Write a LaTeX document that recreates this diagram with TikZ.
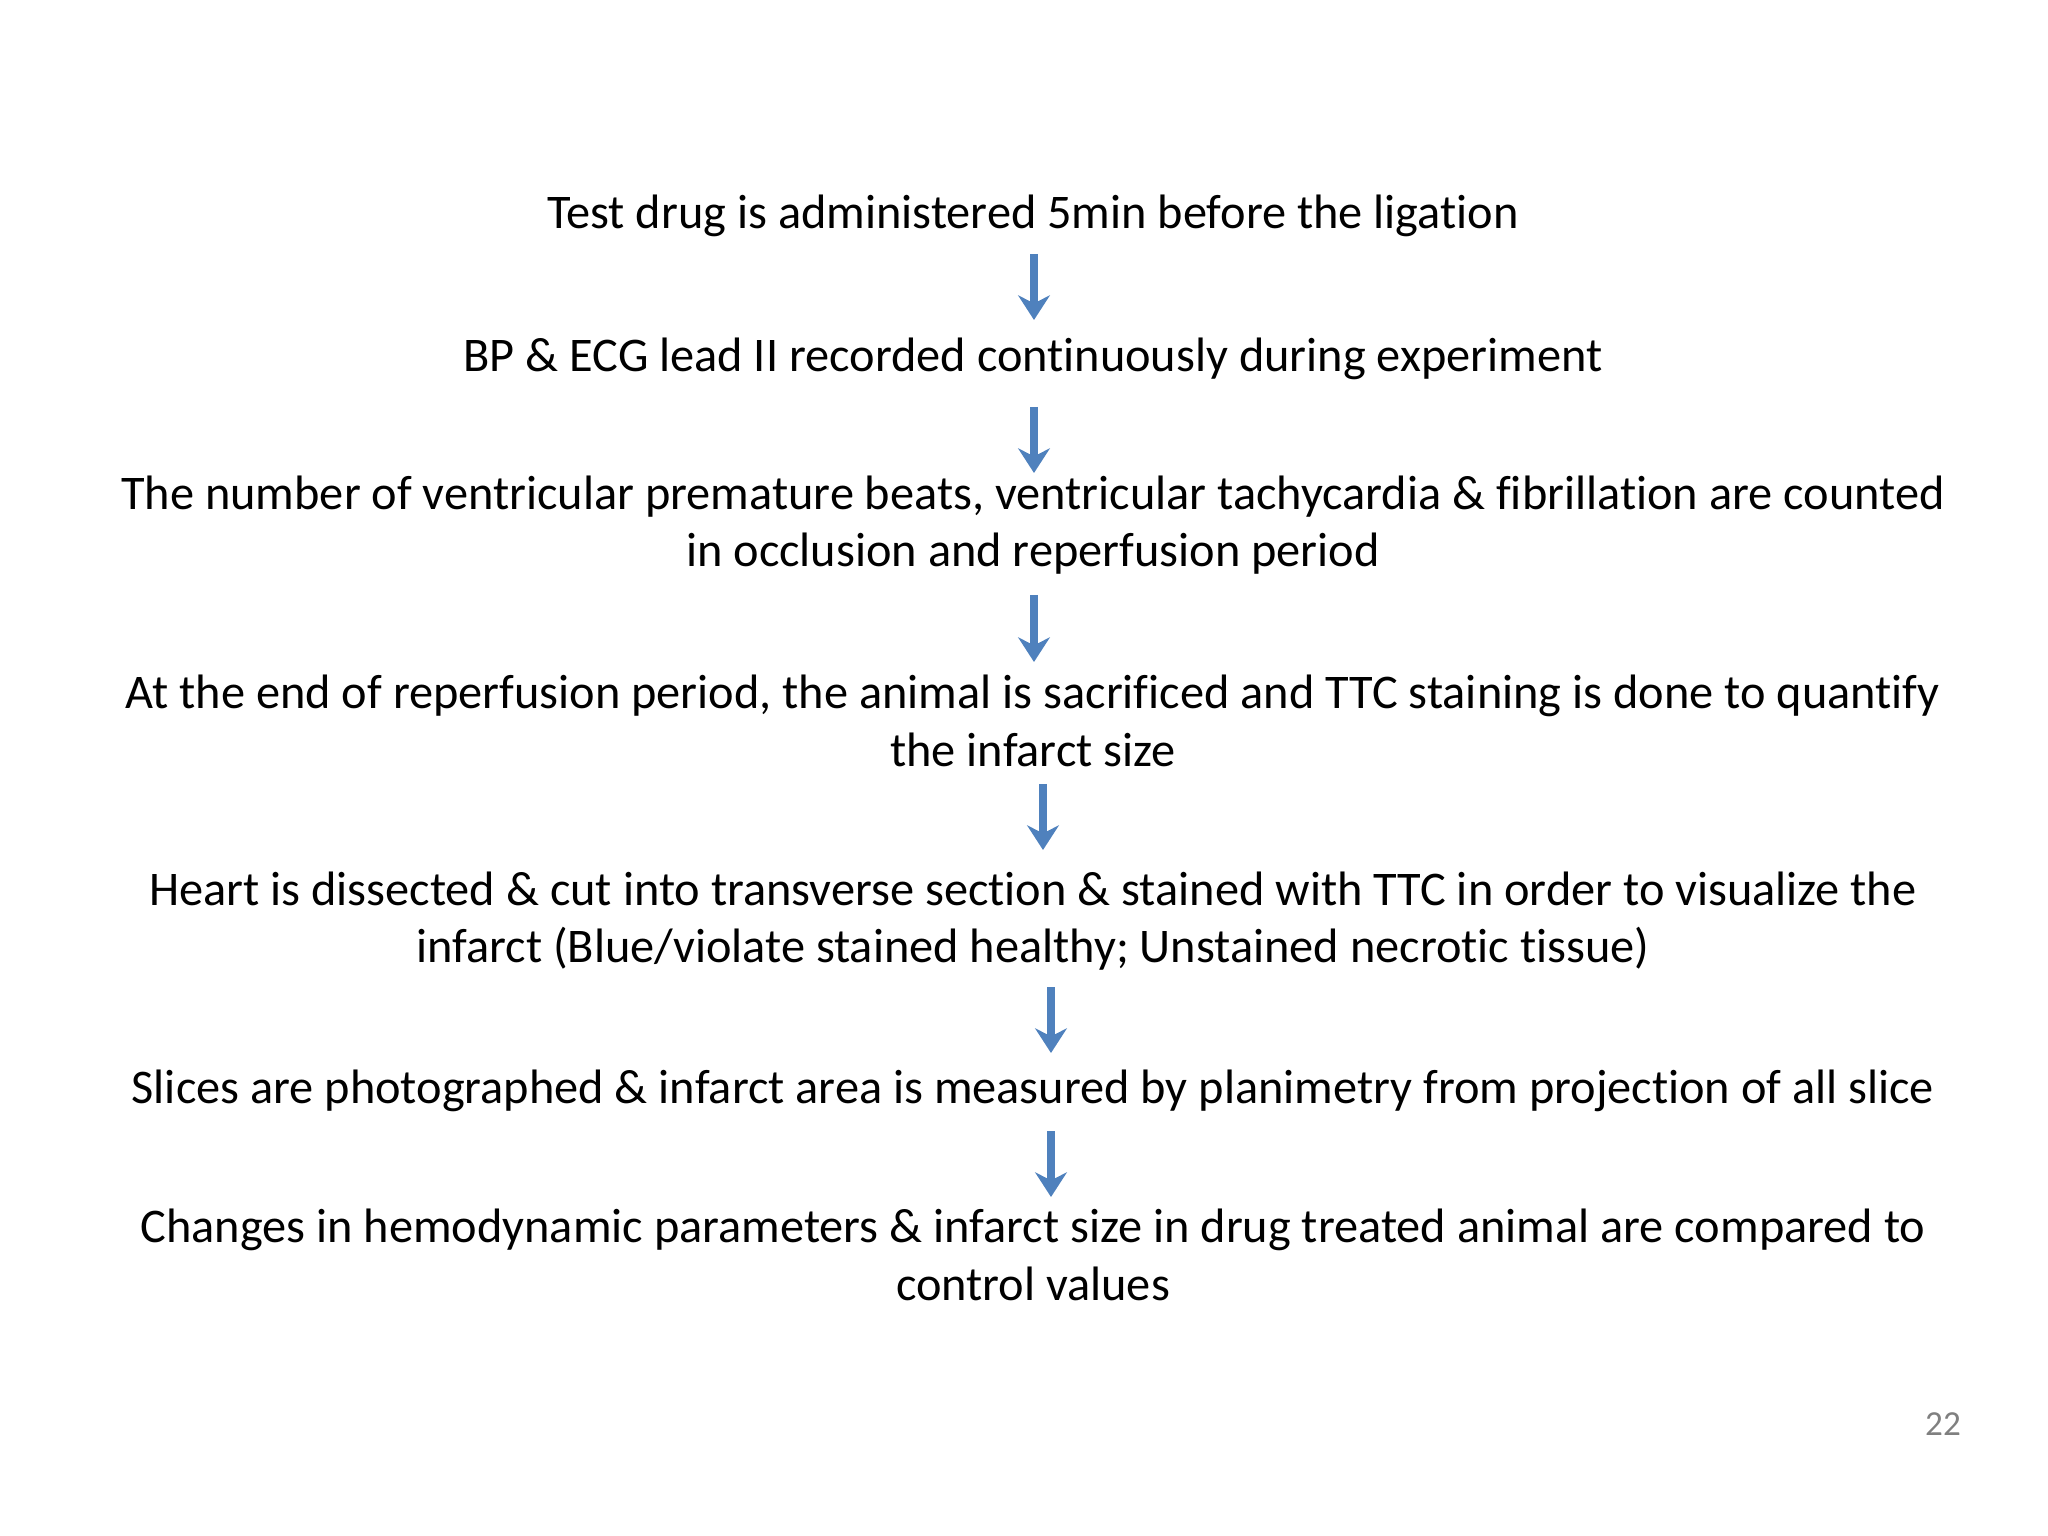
\documentclass[tikz,border=0pt]{standalone}
\usepackage{fontspec}
\usetikzlibrary{arrows.meta}
\setmainfont{Carlito}[RawFeature=-liga]
\definecolor{arrowblue}{RGB}{79,129,189}
\begin{document}
\begin{tikzpicture}[>=stealth]
\tikzset{
  stage/.style={align=center, font=\fontsize{13.75}{16.3}\selectfont},
  flow/.style={->, draw=arrowblue, line width=2.2pt, >={Stealth[length=7pt,width=9pt]}}
}
\useasboundingbox (0,0) rectangle (20.48,-15.36);

\node [stage] (s1) at (10.33,-2.16) {Test drug is administered 5min before the ligation};
\node [stage] (s2) at (10.33,-3.59) {BP \& ECG lead II recorded continuously during experiment};
\node [stage] (s3) at (10.33,-5.25) {The number of ventricular premature beats, ventricular tachycardia \& fibrillation are counted\\in occlusion and reperfusion period};
\node [stage] (s4) at (10.33,-7.21) {At the end of reperfusion period, the animal is sacrificed and TTC staining is done to quantify\\the infarct size};
\node [stage] (s5) at (10.33,-9.21) {Heart is dissected \& cut into transverse section \& stained with TTC in order to visualize the\\infarct (Blue/violate stained healthy; Unstained necrotic tissue)};
\node [stage] (s6) at (10.33,-10.91) {Slices are photographed \& infarct area is measured by planimetry from projection of all slice};
\node [stage] (s7) at (10.33,-12.55) {Changes in hemodynamic parameters \& infarct size in drug treated animal are compared to\\control values};

% arrows between stages
\foreach \x/\t/\b [count=\i] in {10.34/2.54/3.20, 10.34/4.07/4.73, 10.34/5.95/6.62,
                                 10.43/7.84/8.50, 10.51/9.87/10.53, 10.51/11.31/11.97} {
  \coordinate (top-\i) at (\x,-\t);
  \coordinate (bot-\i) at (\x,-\b);
  \draw [flow] (top-\i) -- (bot-\i);
}

\node [font=\fontsize{10}{12}\selectfont, text=gray] (page) at (19.43,-14.24) {22};
\end{tikzpicture}
\end{document}
